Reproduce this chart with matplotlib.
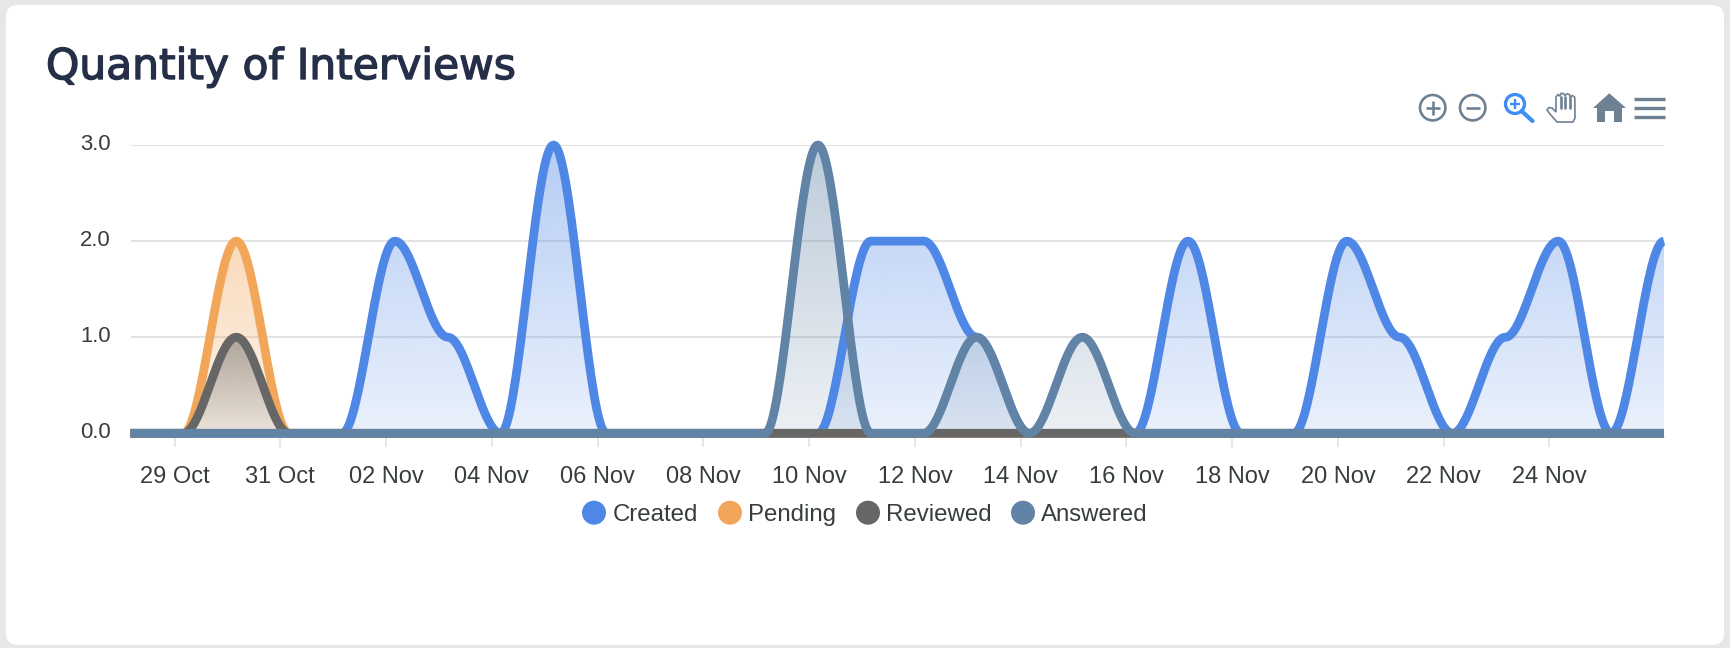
import numpy as np
import pandas as pd
import matplotlib
matplotlib.use("Agg")
import matplotlib.pyplot as plt
import matplotlib.dates as mdates
import matplotlib.patheffects as pe
from matplotlib.patches import FancyBboxPatch, Circle, Polygon, PathPatch
from matplotlib.path import Path
from matplotlib.colors import to_rgb
from matplotlib.transforms import ScaledTranslation

title = "Quantity of Interviews"
dates = pd.date_range("2023-10-28 04:00", periods=30, freq="D")
created = [0,0,0,0,0,2,1,0,3,0,0,0,0,0,2,2,1,0,0,0,2,0,0,2,1,0,1,2,0,2]
pending = [0,0,2,0,0,0,0,0,0,0,0,0,0,0,0,0,0,0,0,0,0,0,0,0,0,0,0,0,0,0]
reviewed = [0,0,1,0,0,0,0,0,0,0,0,0,0,0,0,0,0,0,0,0,0,0,0,0,0,0,0,0,0,0]
answered = [0,0,0,0,0,0,0,0,0,0,0,0,0,3,0,0,1,0,1,0,0,0,0,0,0,0,0,0,0,0]
series_names = ["Created", "Pending", "Reviewed", "Answered"]
series_values = [created, pending, reviewed, answered]
series_colors = ["#4f87e6", "#f2a65a", "#666666", "#6083a6"]
fill_top = [0.42, 0.42, 0.52, 0.42]
y_ticks = [0, 1, 2, 3]

W, H = 1730, 648
fig = plt.figure(figsize=(W / 100, H / 100), dpi=100, facecolor="#e7e7e7")
plt.rcParams["font.family"] = ["Liberation Sans", "DejaVu Sans"]

# page overlay in pixel coordinates
bg = fig.add_axes([0, 0, 1, 1], zorder=0)
bg.set_xlim(0, W); bg.set_ylim(H, 0); bg.axis("off")
bg.add_patch(FancyBboxPatch((6, 5), 1718, 640, boxstyle="round,pad=0,rounding_size=1",
                            fc="white", ec="none", mutation_scale=12))

L, R, T, B = 130.5, 1664, 145, 437
ax = fig.add_axes([L / W, 1 - B / H, (R - L) / W, (B - T) / H], zorder=1)
ax.patch.set_alpha(0)
x = mdates.date2num(dates)


def smooth(xs, ys, k=0.35, n=40):
    """Cubic Bezier between points with horizontal tangents."""
    xs, ys = np.asarray(xs, float), np.asarray(ys, float)
    t = np.linspace(0, 1, n)[:, None]
    out_x, out_y = [], []
    for i in range(len(xs) - 1):
        d = xs[i + 1] - xs[i]
        px = np.array([xs[i], xs[i] + k * d, xs[i + 1] - k * d, xs[i + 1]])
        py = np.array([ys[i], ys[i], ys[i + 1], ys[i + 1]])
        b = np.hstack([(1 - t) ** 3, 3 * t * (1 - t) ** 2, 3 * t ** 2 * (1 - t), t ** 3])
        out_x.append(b @ px); out_y.append(b @ py)
    return np.concatenate(out_x), np.concatenate(out_y)


ax.set_axisbelow(True)
ax.grid(axis="y", color="#dedede", lw=1.2)
ax.grid(axis="x", visible=False)

for k, (name, vals, col, a0) in enumerate(zip(series_names, series_values, series_colors, fill_top)):
    sx, sy = smooth(x, vals)
    top = max(vals)
    rgb = to_rgb(col)
    grad = np.zeros((256, 1, 4))
    grad[..., :3] = rgb
    grad[..., 3] = np.linspace(a0, 0.12, 256)[:, None]
    poly = np.column_stack([np.r_[sx[0], sx, sx[-1]], np.r_[0, sy, 0]])
    clip = PathPatch(Path(poly), transform=ax.transData, fc="none", ec="none")
    ax.add_patch(clip)
    im = ax.imshow(grad, extent=[x[0], x[-1], 0, top], origin="upper", aspect="auto",
                   zorder=2 + k * 0.1, interpolation="bilinear")
    im.set_clip_path(clip)
    ax.plot(sx, sy, color=col, lw=6.3, solid_joinstyle="round", solid_capstyle="butt",
            clip_on=False, zorder=3 + k * 0.1, label=name)

ax.set_xlim(x[0], x[-1])
ax.set_ylim(-3.7 / 96.1, 3)

for s in ["top", "left", "right"]:
    ax.spines[s].set_visible(False)
ax.spines["bottom"].set_color("#dcdcdc")
ax.spines["bottom"].set_linewidth(1.2)

tick_dates = pd.date_range("2023-10-29", "2023-11-24", freq="2D")
ax.set_xticks(mdates.date2num(tick_dates))
ax.xaxis.set_major_formatter(mdates.DateFormatter("%d %b"))
ax.tick_params(axis="x", length=7.2, width=1.1, color="#e0e0e0", pad=13.5,
               labelsize=17.0, labelcolor="#373d3f")
ax.set_yticks(y_ticks)
ax.set_yticklabels([f"{v:.1f}" for v in y_ticks])
ax.tick_params(axis="y", length=0, pad=14, labelsize=15.9, labelcolor="#373d3f")
shift = ScaledTranslation(0, 3.5 / 100, fig.dpi_scale_trans)
for lab in ax.get_yticklabels():
    lab.set_transform(lab.get_transform() + shift)

# title
bg.text(46, 79, title, family=["DejaVu Sans"], fontsize=30.5,
        color="#262f48", ha="left", va="baseline",
        path_effects=[pe.withStroke(linewidth=1.0, foreground="#262f48")])

# legend
circle_x = [594, 730, 868, 1023]
text_x = [612.5, 748, 886, 1041]
leg = fig.add_axes([0, 0, 1, 1], zorder=2)
leg.set_xlim(0, W); leg.set_ylim(H, 0); leg.axis("off"); leg.patch.set_alpha(0)
for cx, tx, name, col in zip(circle_x, text_x, series_names, series_colors):
    leg.add_patch(Circle((cx, 512.7), 12, fc=col, ec="none"))
    leg.text(tx, 512.7, name, fontsize=17.3, color="#373d3f", ha="left", va="center_baseline")

# toolbar icons
grey = "#6e8192"
blue = "#3d8ff5"
for cx, plus in [(1432.7, True), (1472.7, False)]:
    leg.add_patch(Circle((cx, 107.7), 12.7, fc="none", ec=grey, lw=1.9))
    leg.plot([cx - 7, cx + 7], [107.7, 107.7], color=grey, lw=1.9, solid_capstyle="butt")
    if plus:
        leg.plot([cx, cx], [100.7, 114.7], color=grey, lw=1.9, solid_capstyle="butt")
leg.add_patch(Circle((1515, 104), 9.5, fc="none", ec=blue, lw=2.4))
leg.plot([1521.5, 1532.5], [111, 121], color=blue, lw=3, solid_capstyle="round")
leg.plot([1510, 1520], [104, 104], color=blue, lw=1.7, solid_capstyle="butt")
leg.plot([1515, 1515], [99, 109], color=blue, lw=1.7, solid_capstyle="butt")

# hand
hand = [(1557, 122), (1550, 114), (1547, 110), (1549, 107.5), (1552, 108), (1556, 112),
        (1556, 97), (1558, 94.5), (1560, 96), (1561, 93.5), (1563.5, 93.5), (1565, 95.5),
        (1567, 93.8), (1569.5, 94.5), (1570, 97), (1572.5, 95.5), (1574.8, 97.5),
        (1575, 118), (1573, 122), (1557, 122)]
leg.add_patch(Polygon(hand, closed=True, fc="white", ec=grey, lw=1.2))
for hx in [1560.5, 1565, 1569.7]:
    leg.plot([hx, hx], [97, 108], color=grey, lw=1.9, solid_capstyle="round")

# home
leg.add_patch(Polygon([(1609.3, 93.3), (1626, 108), (1622, 108), (1622, 122), (1614, 122),
                       (1614, 111), (1605, 111), (1605, 122), (1597, 122), (1597, 108), (1593, 108)],
                      closed=True, fc=grey, ec="none"))
# menu
for my in [99.3, 108.3, 116.7]:
    leg.plot([1634, 1665], [my, my], color=grey, lw=2.4, solid_capstyle="butt")

fig.savefig("out.png", dpi=100, facecolor=fig.get_facecolor())
